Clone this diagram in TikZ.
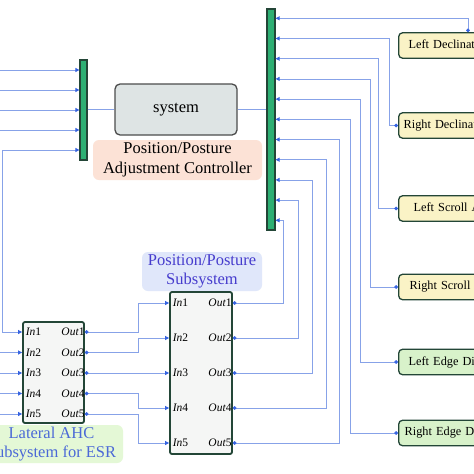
\documentclass[tikz,border=0pt]{standalone}
\usepackage{fontspec}
\setmainfont{Liberation Serif}
\usetikzlibrary{arrows.meta,calc}
\definecolor{wirec}{RGB}{135,162,232}
\definecolor{portc}{RGB}{55,100,225}
\definecolor{bordc}{RGB}{35,70,55}
\definecolor{barc}{RGB}{45,175,115}
\definecolor{sysc}{RGB}{222,228,228}
\definecolor{pinkc}{RGB}{252,226,214}
\definecolor{lbluec}{RGB}{224,231,250}
\definecolor{lgreenc}{RGB}{228,248,214}
\definecolor{yelc}{RGB}{250,243,198}
\definecolor{grnc}{RGB}{216,242,202}
\definecolor{subc}{RGB}{245,246,245}
\definecolor{txtblue}{RGB}{70,60,205}
\definecolor{txtblue2}{RGB}{75,105,215}
\tikzset{
  wire/.style={draw=wirec, line width=0.8pt},
  tip/.style={-{Triangle[length=4pt,width=4pt,color=portc]}},
  twotip/.style={{Triangle[length=4pt,width=4pt,color=portc]}-{Triangle[length=4pt,width=4pt,color=portc]}},
  dottip/.style={{Circle[length=3.6pt,color=portc]}-{Triangle[length=4pt,width=4pt,color=portc]}},
  bar/.style={draw=bordc, fill=barc, line width=1.2pt, inner sep=0pt, minimum width=7pt},
  subbox/.style={draw=bordc, fill=subc, line width=1.8pt, rounded corners=2pt, inner sep=0pt},
  sysbox/.style={draw=black!70, fill=sysc, line width=1.3pt, rounded corners=5pt, inner sep=0pt,
    minimum width=122pt, minimum height=51pt, font=\fontsize{16.5}{19}\selectfont},
  lab/.style={rounded corners=6pt, align=center, inner sep=0pt, font=\fontsize{16.5}{19.5}\selectfont},
  rbox/.style={draw=bordc, line width=1.3pt, rounded corners=4pt, minimum height=25.5pt,
    text width=150pt, align=left, inner xsep=#1, inner ysep=0pt, anchor=west,
    font=\fontsize{12.3}{14}\selectfont},
  plabel/.style={inner sep=0.5pt, font=\fontsize{11.5}{13}\selectfont}
}
\begin{document}
\begin{tikzpicture}[x=1pt,y=-1pt]
\useasboundingbox (0,0) rectangle (474,474);
\clip (0,0) rectangle (474,474);
\fill[white] (0,0) rectangle (474,474);

% labels
\node[lab, fill=pinkc, minimum width=169pt, minimum height=40pt] (PAC) at (177.5,160) {Position/Posture\\Adjustment Controller};
\node[lab, fill=lbluec, text=txtblue, minimum width=120pt, minimum height=39pt] (PSL) at (202,271.5) {Position/Posture\\Subsystem};
\node[lab, fill=lgreenc, text=txtblue2, minimum width=143pt, minimum height=38pt] (LAL) at (51.5,444) {Lateral AHC\\Subsystem for ESR};

% main blocks
\node[sysbox] (SYS) at (176,109.5) {system};
\node[bar, minimum height=100pt] (SM) at (83.5,110) {};
\node[bar, minimum width=8pt, minimum height=221pt] (BM) at (271,119.5) {};
\node[subbox, minimum width=61pt, minimum height=101pt] (LAT) at (53.5,372.5) {};
\node[subbox, minimum width=62pt, minimum height=162pt] (POS) at (201,373) {};

% right boxes
\node[rbox=10pt, fill=yelc] (LD) at (398,45.5) {Left Declination Angle};
\node[rbox=5pt,  fill=yelc] (RD) at (398,125.5) {Right Declination Angle};
\node[rbox=15pt, fill=yelc] (LS) at (398,208.5) {Left Scroll Angle};
\node[rbox=11pt, fill=yelc] (RS) at (398,287) {Right Scroll Angle};
\node[rbox=10pt, fill=grnc] (LE) at (398,362) {Left Edge Distance};
\node[rbox=6pt,  fill=grnc] (RE) at (398,433) {Right Edge Distance};

% ports of the lateral block
\foreach \k/\yy in {1/332,2/352.5,3/373,4/393.5,5/414}{
  \coordinate (li\k) at (LAT.west |- 0,\yy);
  \coordinate (lo\k) at (LAT.east |- 0,\yy);
  \node[plabel, anchor=west] (lin\k) at ($(li\k)+(3,0)$) {\textit{In}\k};
  \node[plabel, anchor=east] (lout\k) at ($(lo\k)+(0.5,0)$) {\textit{Out}\k};
}
% ports of the position block
\foreach \k/\yy in {1/303,2/338,3/373,4/408,5/443}{
  \coordinate (pi\k) at (POS.west |- 0,\yy);
  \coordinate (po\k) at (POS.east |- 0,\yy);
  \node[plabel, anchor=west] (pin\k) at ($(pi\k)+(3,0)$) {\textit{In}\k};
  \node[plabel, anchor=east] (pout\k) at ($(po\k)+(-0.5,0)$) {\textit{Out}\k};
}
% ports of the big mux
\foreach \k in {1,...,11}{
  \coordinate (m\k) at ($(BM.north east)+(0,9.9+20.2*\k-20.2)$);
}
% ports of the small mux
\foreach \k/\yy in {1/70,2/90,3/110,4/130,5/150}{
  \coordinate (sm\k) at (SM.west |- 0,\yy);
}
\foreach \k/\yy in {1/70,2/90,3/110,4/130}{
  \coordinate (sl\k) at (-2,\yy);
  \draw[wire,tip] (sl\k) -- (sm\k);
}
\foreach \k/\yy in {2/352.5,3/373,4/393.5,5/414}{
  \coordinate (ll\k) at (-2,\yy);
  \draw[wire,tip] (ll\k) -- (li\k);
}
\draw[wire,twotip] (sm5) -| ($(li1)+(-20,0)$) -- (li1);

% system path
\draw[wire] (SM.east |- SYS.west) -- (SYS.west);
\draw[wire] (SYS.east) -- (BM.west |- SYS.east);

% lateral -> position
\draw[wire,dottip] (lo1) -| ($(pi1)+(-31,0)$) -- (pi1);
\draw[wire,dottip] (lo2) -| ($(pi2)+(-31,0)$) -- (pi2);
\draw[wire,dottip] (lo3) -- (pi3);
\draw[wire,dottip] (lo4) -| ($(pi4)+(-31,0)$) -- (pi4);
\draw[wire,dottip] (lo5) -| ($(pi5)+(-31,0)$) -- (pi5);

% right boxes -> big mux
\draw[wire,dottip] ($(LD.north west)+(70,0)$) |- (m1);
\draw[wire,dottip] (RD.west) -- ++(-9,0) |- (m2);
\draw[wire,dottip] (LS.west) -- ++(-20,0) |- (m3);
\draw[wire,dottip] (RS.west) -- ++(-28,0) |- (m4);
\draw[wire,dottip] (LE.west) -- ++(-38,0) |- (m5);
\draw[wire,dottip] (RE.west) -- ++(-48,0) |- (m6);

% position outputs -> big mux
\draw[wire,dottip] (po5) -| ($(m7)+(64,0)$) -- (m7);
\draw[wire,dottip] (po4) -| ($(m8)+(51,0)$) -- (m8);
\draw[wire,dottip] (po3) -| ($(m9)+(37,0)$) -- (m9);
\draw[wire,dottip] (po2) -| ($(m10)+(23,0)$) -- (m10);
\draw[wire,dottip] (po1) -| ($(m11)+(8,0)$) -- (m11);
\end{tikzpicture}
\end{document}
